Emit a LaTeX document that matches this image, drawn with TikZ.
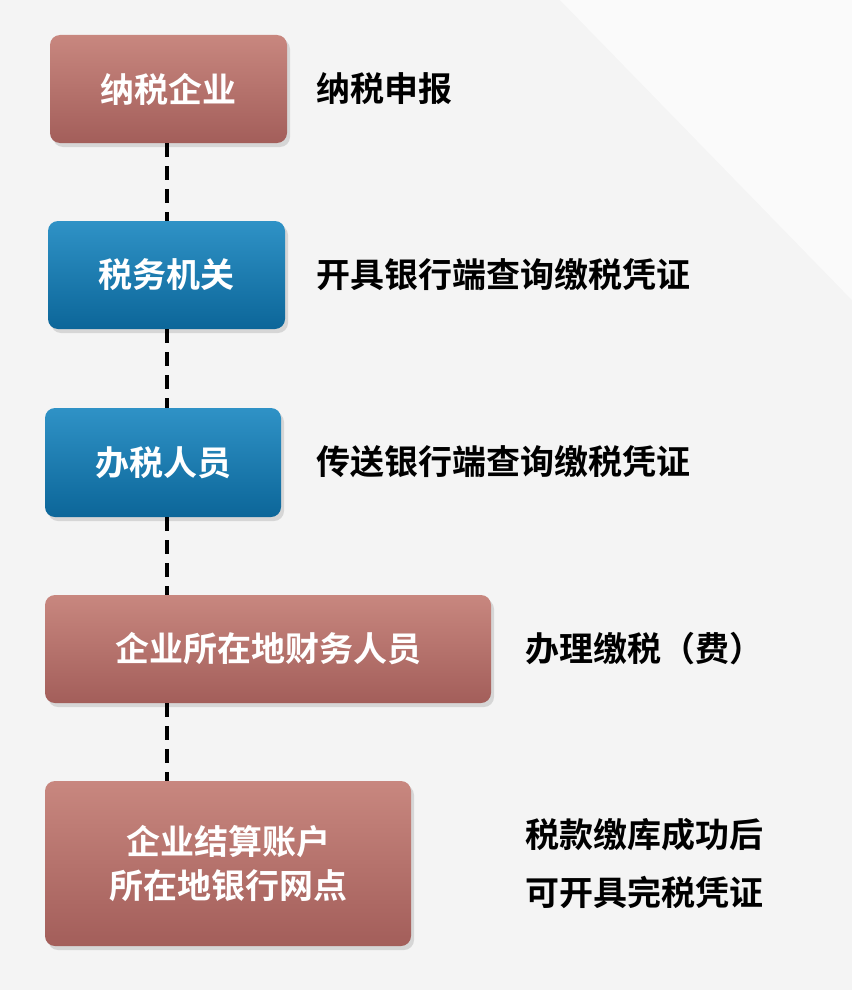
\documentclass[tikz,border=0pt]{standalone}
\usepackage{fontspec}
\setmainfont{Noto Sans CJK SC}[BoldFont={* Bold}]
\usetikzlibrary{shadows}
\definecolor{rtop}{HTML}{C8877F}
\definecolor{rbot}{HTML}{A35E5A}
\definecolor{btop}{HTML}{2F92C6}
\definecolor{bbot}{HTML}{0C6699}
\definecolor{bg}{HTML}{F4F4F4}
\tikzset{
  box/.style={rounded corners=10pt, inner sep=0pt, text=white, font=\fontsize{34}{44}\selectfont\bfseries, align=center, drop shadow={opacity=0.25, shadow xshift=3pt, shadow yshift=-4pt}},
  redbox/.style={box, top color=rtop, bottom color=rbot},
  bluebox/.style={box, top color=btop, bottom color=bbot},
  lab/.style={font=\fontsize{34}{58}\selectfont\bfseries, anchor=west, align=left, inner sep=0pt},
  conn/.style={line width=4pt, dash pattern=on 14pt off 9pt}
}
\begin{document}
\begin{tikzpicture}[x=1pt,y=-1pt]
\fill[bg] (0,0) rectangle (852,990);
\fill[white,opacity=0.6] (560,0) -- (852,0) -- (852,300) -- cycle;
\node[redbox, minimum width=237pt, minimum height=108pt] (a) at (168.5,89) {纳税企业};
\node[bluebox, minimum width=237pt, minimum height=108pt] (b) at (166.5,275) {税务机关};
\node[bluebox, minimum width=236pt, minimum height=109pt] (c) at (163,462.5) {办税人员};
\node[redbox, minimum width=446pt, minimum height=108pt] (d) at (268,649) {企业所在地财务人员};
\node[redbox, minimum width=366pt, minimum height=165pt] (e) at (228,863.5) {企业结算账户\\所在地银行网点};
\coordinate (a1) at (167,143); \coordinate (b0) at (167,221);
\coordinate (b1) at (167,329); \coordinate (c0) at (167,408);
\coordinate (c1) at (167,517); \coordinate (d0) at (167,595);
\coordinate (d1) at (167,703); \coordinate (e0) at (167,781);
\draw[conn] (a1) -- (b0);
\draw[conn] (b1) -- (c0);
\draw[conn] (c1) -- (d0);
\draw[conn] (d1) -- (e0);
\node[lab] (la) at (316,89) {纳税申报};
\node[lab] (lb) at (316,275) {开具银行端查询缴税凭证};
\node[lab] (lc) at (316,462) {传送银行端查询缴税凭证};
\node[lab] (ld) at (525,649) {办理缴税（费）};
\node[lab] (le) at (525,863) {税款缴库成功后\\可开具完税凭证};
\end{tikzpicture}
\end{document}
